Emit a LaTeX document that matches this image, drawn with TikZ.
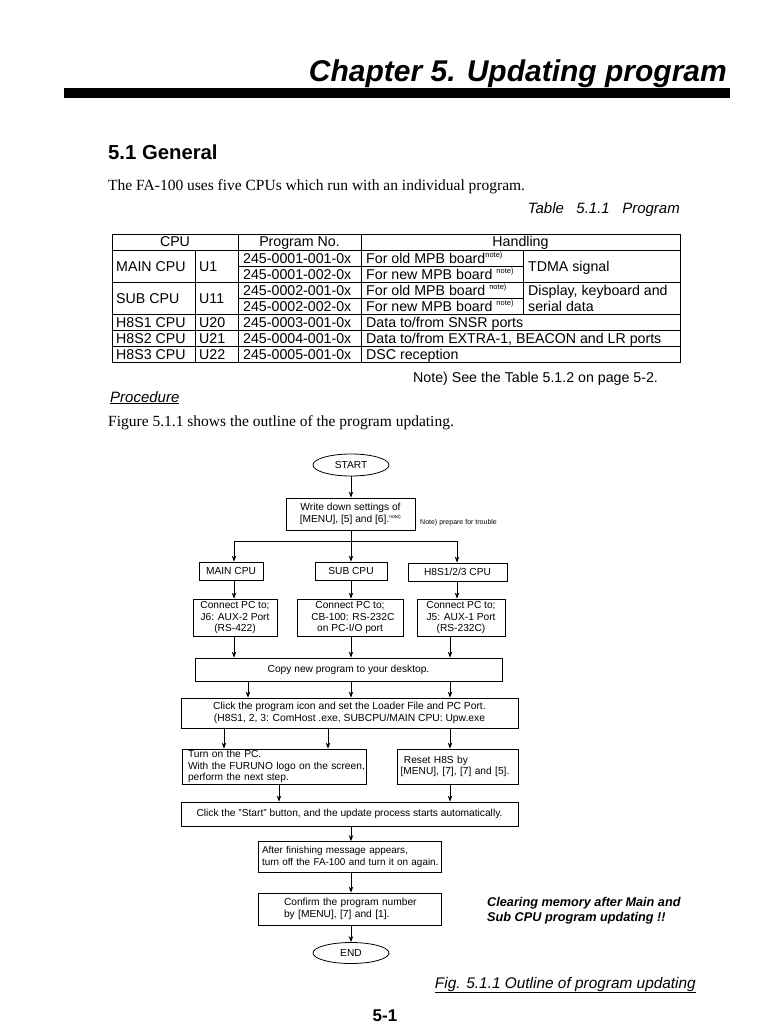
\documentclass[tikz,border=0pt]{standalone}
\usepackage{fontspec}
\setmainfont{Liberation Serif}
\setsansfont{Liberation Sans}
\usetikzlibrary{arrows.meta,shapes.geometric,calc}
\begin{document}
\begin{tikzpicture}[x=1pt,y=-1pt,
  txt/.style={inner sep=0pt,anchor=base,font=\sffamily\fontsize{14.2}{15}\selectfont},
  tcell/.style={txt,anchor=base west},
  fbox/.style={draw,line width=0.8pt,rectangle,inner sep=0pt,align=center,font=\sffamily\fontsize{10.2}{11.5}\selectfont},
  fell/.style={draw,line width=0.8pt,ellipse,inner sep=0pt,font=\sffamily\fontsize{10.2}{11.5}\selectfont},
  flow/.style={line width=0.8pt,-{Stealth[length=6pt,width=4.5pt]}},
  tline/.style={line width=0.7pt}
]
\useasboundingbox (0,0) rectangle (768,1024);
\fill[white] (0,0) rectangle (768,1024);

% header
\node[inner sep=0pt,anchor=base east] (title) at (727,82) {\sffamily\bfseries\itshape\fontsize{30}{31}\selectfont Chapter 5. Updating program};
\fill (64,88) rectangle (730,98);
\node[inner sep=0pt,anchor=base west] (sec) at (108,160) {\sffamily\bfseries\fontsize{20.3}{22}\selectfont 5.1 General};
\node[inner sep=0pt,anchor=base west] (intro) at (108,191) {\fontsize{15.5}{17}\selectfont The FA-100 uses five CPUs which run with an individual program.};
\node[inner sep=0pt,anchor=base east] (tcap) at (680,214) {\sffamily\itshape\fontsize{15}{17}\selectfont Table\ \ \ 5.1.1\ \ \ Program};

% table lines
\draw[tline] (112,234) rectangle (680,362);
\foreach \yy in {250,282,314,330,346} \draw[tline] (112,\yy) -- (680,\yy);
\foreach \yy in {266,298} \draw[tline] (238,\yy) -- (523,\yy);
\draw[tline] (195,250) -- (195,362);
\draw[tline] (238,234) -- (238,362);
\draw[tline] (361,234) -- (361,362);
\draw[tline] (523,250) -- (523,314);

% table text (baselines = row centre + 5)
\def\nt{\textsuperscript{\fontsize{7.5}{7.5}\selectfont note)}}
\node[txt] (h1) at (175,247) {CPU};
\node[txt] (h2) at (299.5,247) {Program No.};
\node[txt] (h3) at (520.5,247) {Handling};
\node[tcell] (r1a) at (116,271) {MAIN CPU};
\node[tcell] (r1b) at (199,271) {U1};
\node[tcell] (r1c) at (243,263) {245-0001-001-0x};
\node[tcell] (r1d) at (243,279) {245-0001-002-0x};
\node[tcell] (r1e) at (366,263) {For old MPB board\nt};
\node[tcell] (r1f) at (366,279) {For new MPB board \nt};
\node[tcell] (r1g) at (528,271) {TDMA signal};
\node[tcell] (r2a) at (116,303) {SUB CPU};
\node[tcell] (r2b) at (199,303) {U11};
\node[tcell] (r2c) at (243,295) {245-0002-001-0x};
\node[tcell] (r2d) at (243,311) {245-0002-002-0x};
\node[tcell] (r2e) at (366,295) {For old MPB board \nt};
\node[tcell] (r2f) at (366,311) {For new MPB board \nt};
\node[tcell] (r2g) at (528,295) {Display, keyboard and};
\node[tcell] (r2h) at (528,311) {serial data};
\node[tcell] (r3a) at (116,327) {H8S1 CPU};
\node[tcell] (r3b) at (199,327) {U20};
\node[tcell] (r3c) at (243,327) {245-0003-001-0x};
\node[tcell] (r3d) at (366,327) {Data to/from SNSR ports};
\node[tcell] (r4a) at (116,343) {H8S2 CPU};
\node[tcell] (r4b) at (199,343) {U21};
\node[tcell] (r4c) at (243,343) {245-0004-001-0x};
\node[tcell] (r4d) at (366,343) {Data to/from EXTRA-1, BEACON and LR ports};
\node[tcell] (r5a) at (116,359) {H8S3 CPU};
\node[tcell] (r5b) at (199,359) {U22};
\node[tcell] (r5c) at (243,359) {245-0005-001-0x};
\node[tcell] (r5d) at (366,359) {DSC reception};

\node[tcell] (tnote) at (413,382) {Note) See the Table 5.1.2 on page 5-2.};
\node[inner sep=0pt,anchor=base west] (proc) at (110,402) {\sffamily\itshape\fontsize{15}{17}\selectfont\underline{Procedure}};
\node[inner sep=0pt,anchor=base west] (figtxt) at (108,426) {\fontsize{15.5}{17}\selectfont Figure 5.1.1 shows the outline of the program updating.};

% flowchart
\coordinate (colA) at (234,0);
\coordinate (colB) at (351,0);
\coordinate (colC) at (457,0);
\coordinate (colD) at (450,0);
\coordinate (colE) at (248,0);
\node[fell,minimum width=76pt,minimum height=22pt] (start) at (351,465) {START};
\node[fbox,minimum width=129pt,minimum height=32pt] (write) at (350.5,514) {Write down settings of\\{}[MENU], [5] and [6].\textsuperscript{\fontsize{5}{5}\selectfont note)}};
\node[inner sep=0pt,anchor=west,font=\sffamily\fontsize{7}{8}\selectfont] (wnote) at (420,523) {Note) prepare for trouble};
\node[fbox,minimum width=64pt,minimum height=18pt] (main) at (231,571) {MAIN CPU};
\node[fbox,minimum width=72pt,minimum height=18pt] (sub) at (351,571) {SUB CPU};
\node[fbox,minimum width=99pt,minimum height=18pt] (h8s) at (457.5,572) {H8S1/2/3 CPU};
\node[fbox,minimum width=84pt,minimum height=37pt] (c1) at (235,617.5) {Connect PC to;\\J6: AUX-2 Port\\(RS-422)};
\node[fbox,minimum width=106pt,minimum height=37pt] (c2) at (350,617.5) {Connect PC to;\\\ \ CB-100: RS-232C\\on PC-I/O port};
\node[fbox,minimum width=88pt,minimum height=37pt] (c3) at (461,617.5) {Connect PC to;\\J5: AUX-1 Port\\(RS-232C)};
\node[fbox,minimum width=307pt,minimum height=23pt] (copy) at (348.5,669.5) {Copy new program to your desktop.};
\node[fbox,minimum width=337pt,minimum height=30pt,font=\sffamily\fontsize{10.3}{12}\selectfont] (click) at (349.5,713) {Click the program icon and set the Loader File and PC Port.\\(H8S1, 2, 3: ComHost .exe, SUBCPU/MAIN CPU: Upw.exe};
\node[fbox,minimum width=184pt,minimum height=35pt,align=left,text width=172pt] (turnon) at (274,766.5) {\mbox{Turn on the PC.}\\\mbox{With the FURUNO logo on the screen,}\\\mbox{perform the next step.}};
\node[fbox,minimum width=121pt,minimum height=35pt,align=left,text width=114pt] (reset) at (457.5,766.5) {\mbox{\ Reset H8S by}\\\mbox{[MENU], [7], [7] and [5].}};
\node[fbox,minimum width=337pt,minimum height=24pt] (sbtn) at (349.5,814) {Click the "Start" button, and the update process starts automatically.};
\node[fbox,minimum width=183pt,minimum height=31pt,align=left,text width=175pt,font=\sffamily\fontsize{9.9}{11.5}\selectfont] (after) at (349.5,857) {\mbox{After finishing message appears,}\\\mbox{turn off the FA-100 and turn it on again.}};
\node[fbox,minimum width=183pt,minimum height=32pt,align=left,text width=131pt] (confirm) at (349.5,909) {\mbox{Confirm the program number}\\\mbox{by [MENU], [7] and [1].}};
\node[fell,minimum width=76pt,minimum height=21pt] (end) at (351,953) {END};

\coordinate (br) at (351,541);
\draw[flow] (start.south -| colB) -- (write.north -| colB);
\draw[line width=0.8pt] (write.south -| colB) -- (br);
\draw[line width=0.8pt] (br -| colA) -- (br -| colC);
\draw[flow] (br -| colA) -- (main.north -| colA);
\draw[flow] (br) -- (sub.north -| colB);
\draw[flow] (br -| colC) -- (h8s.north -| colC);
\draw[flow] (main.south -| colA) -- (c1.north -| colA);
\draw[flow] (sub.south -| colB) -- (c2.north -| colB);
\draw[flow] (h8s.south -| colC) -- (c3.north -| colC);
\draw[flow] (c1.south -| colA) -- (copy.north -| colA);
\draw[flow] (c2.south -| colB) -- (copy.north -| colB);
\draw[flow] (c3.south -| colD) -- (copy.north -| colD);
\draw[flow] (copy.south -| colE) -- (click.north -| colE);
\draw[flow] (copy.south -| colB) -- (click.north -| colB);
\draw[flow] (copy.south -| colD) -- (click.north -| colD);
\coordinate (tA) at (224,0);
\coordinate (tB) at (328,0);
\coordinate (tC) at (279,0);
\draw[flow] (click.south -| tA) -- (turnon.north -| tA);
\draw[flow] (click.south -| tB) -- (turnon.north -| tB);
\draw[flow] (click.south -| colD) -- (reset.north -| colD);
\draw[flow] (turnon.south -| tC) -- (sbtn.north -| tC);
\draw[flow] (reset.south -| colD) -- (sbtn.north -| colD);
\draw[flow] (sbtn.south -| colB) -- (after.north -| colB);
\draw[flow] (after.south -| colB) -- (confirm.north -| colB);
\draw[flow] (confirm.south -| colB) -- (end.north -| colB);

\node[inner sep=0pt,anchor=west,align=left,font=\sffamily\bfseries\itshape\fontsize{12.7}{15}\selectfont] (clr) at (487,911) {Clearing memory after Main and\\Sub CPU program updating !!};
\node[inner sep=0pt,anchor=base east] (figcap) at (696,988) {\sffamily\itshape\fontsize{15.4}{17}\selectfont\underline{Fig. 5.1.1 Outline of program updating}};
\node[inner sep=0pt,anchor=base] (pg) at (385,1021) {\sffamily\bfseries\fontsize{17}{18}\selectfont 5-1};
\end{tikzpicture}
\end{document}
